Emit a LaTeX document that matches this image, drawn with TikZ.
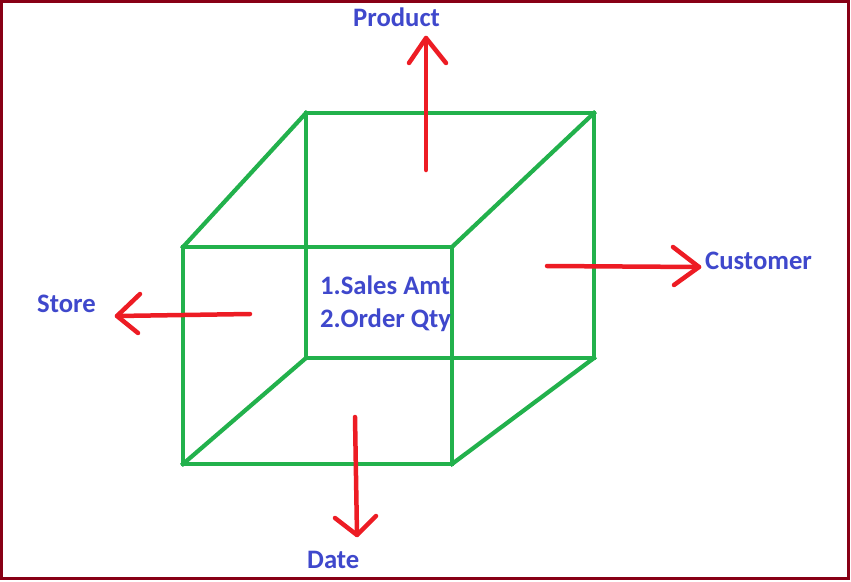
\documentclass[tikz,border=0pt]{standalone}
\usepackage{fontspec}
\setmainfont{Carlito}
\definecolor{pgreen}{HTML}{22B14C}
\definecolor{pred}{HTML}{ED1C24}
\definecolor{pblue}{HTML}{3F48CC}
\definecolor{pframe}{HTML}{880015}
\begin{document}
\begin{tikzpicture}[x=1pt,y=-1pt,
  edge/.style={draw=pgreen,line width=4.2pt,line cap=rect,line join=miter},
  axis/.style={draw=pred,line width=4.5pt,line cap=round,line join=round},
  lbl/.style={text=pblue,font=\fontsize{26.67}{33}\selectfont\bfseries,inner sep=0pt,anchor=base west}]
\useasboundingbox (0,0) rectangle (851,581);
\draw[pframe,line width=3pt] (1.5,1.5) rectangle (848.5,578.5);
% cube corners
\coordinate (ftl) at (183,247);
\coordinate (ftr) at (452,247);
\coordinate (fbr) at (452,464);
\coordinate (fbl) at (183,464);
\coordinate (btl) at (306,113);
\coordinate (btr) at (594,113);
\coordinate (bbr) at (594,358);
\coordinate (bbl) at (306,358);
\draw[edge] (btl) -- (btr) -- (bbr) -- (bbl) -- cycle;
\draw[edge] (ftl) -- (ftr) -- (fbr) -- (fbl) -- cycle;
\draw[edge] (ftl) -- (btl) (ftr) -- (btr) (fbr) -- (bbr) (fbl) -- (bbl);
% labels
\node[lbl] (product) at (353,26) {Product};
\node[lbl] (store) at (37,312) {Store};
\node[lbl] (customer) at (705,269) {Customer};
\node[lbl] (date) at (307,568) {Date};
\node[lbl,align=left] (measures) at (320,327) {1.Sales Amt\\2.Order Qty};
% arrows
\coordinate (p0) at (426,170); \coordinate (p1) at (426,38);
\coordinate (p1a) at (409,63); \coordinate (p1b) at (446,63);
\draw[axis] (p0) -- (p1); \draw[axis] (p1a) -- (p1) -- (p1b);
\coordinate (s0) at (250,314); \coordinate (s1) at (117,316);
\coordinate (s1a) at (140,294); \coordinate (s1b) at (138,333);
\draw[axis] (s0) -- (s1); \draw[axis] (s1a) -- (s1) -- (s1b);
\coordinate (c0) at (547,266); \coordinate (c1) at (699,267);
\coordinate (c1a) at (673,247); \coordinate (c1b) at (674,285);
\draw[axis] (c0) -- (c1); \draw[axis] (c1a) -- (c1) -- (c1b);
\coordinate (d0) at (355,417); \coordinate (d1) at (357,535);
\coordinate (d1a) at (335,518); \coordinate (d1b) at (376,516);
\draw[axis] (d0) -- (d1); \draw[axis] (d1a) -- (d1) -- (d1b);
\end{tikzpicture}
\end{document}
